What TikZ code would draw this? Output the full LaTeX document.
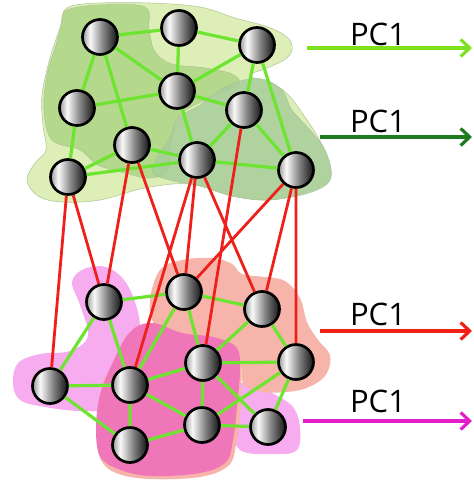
\documentclass[tikz,border=0pt]{standalone}
\usepackage{fontspec}
\setmainfont{Open Sans}
\usetikzlibrary{arrows.meta}
\definecolor{edgegreen}{RGB}{108,228,48}
\definecolor{edgered}{RGB}{238,32,28}
\definecolor{pclime}{RGB}{125,226,30}
\definecolor{pcdark}{RGB}{32,122,32}
\definecolor{pcred}{RGB}{240,32,22}
\definecolor{pcmag}{RGB}{226,30,200}
\definecolor{blobpale}{RGB}{221,239,182}
\definecolor{blobmid}{RGB}{180,216,140}
\definecolor{blobgrey}{RGB}{168,206,156}
\definecolor{bloblines}{RGB}{172,196,152}
\definecolor{blobpink}{RGB}{246,172,238}
\definecolor{blobsalmon}{RGB}{247,180,170}
\definecolor{blobhot}{RGB}{240,118,186}
\pgfdeclarehorizontalshading{ballshade}{100bp}{color(0bp)=(black!40); color(25bp)=(black!40); color(36bp)=(black!2); color(55bp)=(black!50); color(75bp)=(black!92); color(100bp)=(black!92)}
\begin{document}
\begin{tikzpicture}[x={(1pt,0pt)}, y={(0pt,-1pt)},
    ball/.style={circle, draw=black, line width=2.7pt, minimum size=35pt, inner sep=0pt, shading=ballshade},
    ingreen/.style={draw=edgegreen, line width=3.2pt},
    across/.style={draw=edgered, line width=2.8pt},
    pcarrow/.style={line width=3.2pt, -{Straight Barb[length=9pt, width=17pt, line width=3.2pt]}},
    pclabel/.style={anchor=base, font=\fontsize{31}{31}\selectfont, inner sep=0pt}]
    \useasboundingbox (0,0) rectangle (474,483);
    \filldraw[fill=blobpale, draw=bloblines, line width=0.5pt] plot[smooth cycle, tension=0.6] coordinates {(67,8) (100,3) (150,3) (200,7) (235,18) (268,27) (288,38) (292,50) (284,60) (262,70) (250,76) (283,90) (307,120) (322,145) (331,170) (327,183) (305,192) (270,200) (232,196) (190,184) (145,188) (100,200) (62,202) (38,196) (27,180) (35,163) (46,150) (43,125) (42,95) (50,58) (60,28)};
    \filldraw[fill=blobmid, draw=bloblines, line width=0.5pt] plot[smooth cycle, tension=0.6] coordinates {(67,10) (100,5) (145,7) (149,30) (155,52) (172,64) (205,68) (232,74) (238,85) (205,100) (180,115) (172,140) (168,170) (150,178) (125,173) (98,165) (80,150) (52,140) (44,110) (47,75) (56,45) (62,22)};
    \filldraw[fill=blobgrey, fill opacity=0.85, draw=bloblines, line width=0.5pt] plot[smooth cycle, tension=0.6] coordinates {(152,170) (170,137) (178,118) (200,105) (220,90) (240,81) (262,79) (282,90) (292,110) (310,130) (324,148) (331,170) (327,184) (305,194) (268,200) (232,196) (200,186) (170,180)};
    \fill[blobpink] plot[smooth cycle, tension=0.6] coordinates {(72,282) (84,269) (106,267) (124,280) (136,305) (140,335) (132,385) (112,408) (80,411) (45,407) (20,400) (13,383) (18,363) (40,354) (70,351) (88,336) (80,305)};
    \fill[blobpink] plot[smooth cycle, tension=0.6] coordinates {(233,388) (252,383) (272,393) (293,407) (300,428) (297,450) (276,454) (240,450) (232,420)};
    \fill[blobsalmon] plot[smooth cycle, tension=0.6] coordinates {(150,300) (160,270) (182,260) (213,258) (232,264) (242,274) (265,277) (285,281) (300,298) (307,322) (318,340) (330,355) (327,373) (315,384) (295,391) (262,392) (243,383) (235,350) (180,335) (155,325)};
    \fill[blobsalmon] plot[smooth cycle, tension=0.6] coordinates {(112,366) (150,326) (213,340) (238,350) (241,400) (236,445) (228,466) (200,477) (150,479) (116,473) (100,458) (97,430) (100,395)};
    \fill[blobhot] plot[smooth cycle, tension=0.6] coordinates {(112,364) (130,332) (152,323) (182,333) (213,337) (236,347) (240,368) (237,407) (233,440) (226,462) (200,473) (150,476) (118,469) (100,456) (96,428) (100,395)};
    \node[ball] (t1) at (100,37) {};
    \node[ball] (t2) at (179,28) {};
    \node[ball] (t3) at (257,45) {};
    \node[ball] (t4) at (77,108) {};
    \node[ball] (t5) at (177,91) {};
    \node[ball] (t6) at (244,110) {};
    \node[ball] (t7) at (132,145) {};
    \node[ball] (t8) at (197,160) {};
    \node[ball] (t9) at (296,170) {};
    \node[ball] (t10) at (68,177) {};
    \node[ball] (b1) at (104,302) {};
    \node[ball] (b2) at (184,292) {};
    \node[ball] (b3) at (262,309) {};
    \node[ball] (b4) at (203,363) {};
    \node[ball] (b5) at (296,362) {};
    \node[ball] (b6) at (50,386) {};
    \node[ball] (b7) at (130,385) {};
    \node[ball] (b8) at (202,425) {};
    \node[ball] (b9) at (268,427) {};
    \node[ball] (b10) at (130,445) {};
    \draw[ingreen] (t1)--(t2) (t1)--(t4) (t1)--(t5) (t1)--(t7) (t2)--(t3) (t2)--(t5) (t3)--(t5) (t3)--(t6) (t3)--(t9) (t4)--(t5) (t4)--(t10) (t5)--(t6) (t5)--(t8) (t6)--(t8) (t6)--(t9) (t7)--(t10) (t7)--(t8) (t10)--(t8) (t8)--(t9);
    \draw[ingreen] (b1)--(b2) (b1)--(b6) (b1)--(b7) (b2)--(b3) (b2)--(b4) (b2)--(b7) (b3)--(b4) (b3)--(b5) (b4)--(b5) (b4)--(b7) (b4)--(b8) (b4)--(b9) (b5)--(b8) (b5)--(b9) (b6)--(b7) (b6)--(b10) (b7)--(b10) (b7)--(b8) (b8)--(b9) (b8)--(b10);
    \draw[across] (t10)--(b6) (t10)--(b1) (t7)--(b1) (t7)--(b2) (t8)--(b7) (t8)--(b2) (t8)--(b3) (t6)--(b4) (t9)--(b2) (t9)--(b3) (t9)--(b5);
    \coordinate (a1) at (307,48);
    \coordinate (e1) at (472,48);
    \coordinate (a2) at (320,137);
    \coordinate (e2) at (472,137);
    \coordinate (a3) at (320,331);
    \coordinate (e3) at (472,331);
    \coordinate (a4) at (303,421);
    \coordinate (e4) at (472,421);
    \draw[pcarrow, color=pclime] (a1)--(e1);
    \draw[pcarrow, color=pcdark] (a2)--(e2);
    \draw[pcarrow, color=pcred] (a3)--(e3);
    \draw[pcarrow, color=pcmag] (a4)--(e4);
    \node[pclabel] (l1) at (378,45) {PC1};
    \node[pclabel] (l2) at (378,132) {PC1};
    \node[pclabel] (l3) at (378,325) {PC1};
    \node[pclabel] (l4) at (378,412) {PC1};
\end{tikzpicture}
\end{document}
